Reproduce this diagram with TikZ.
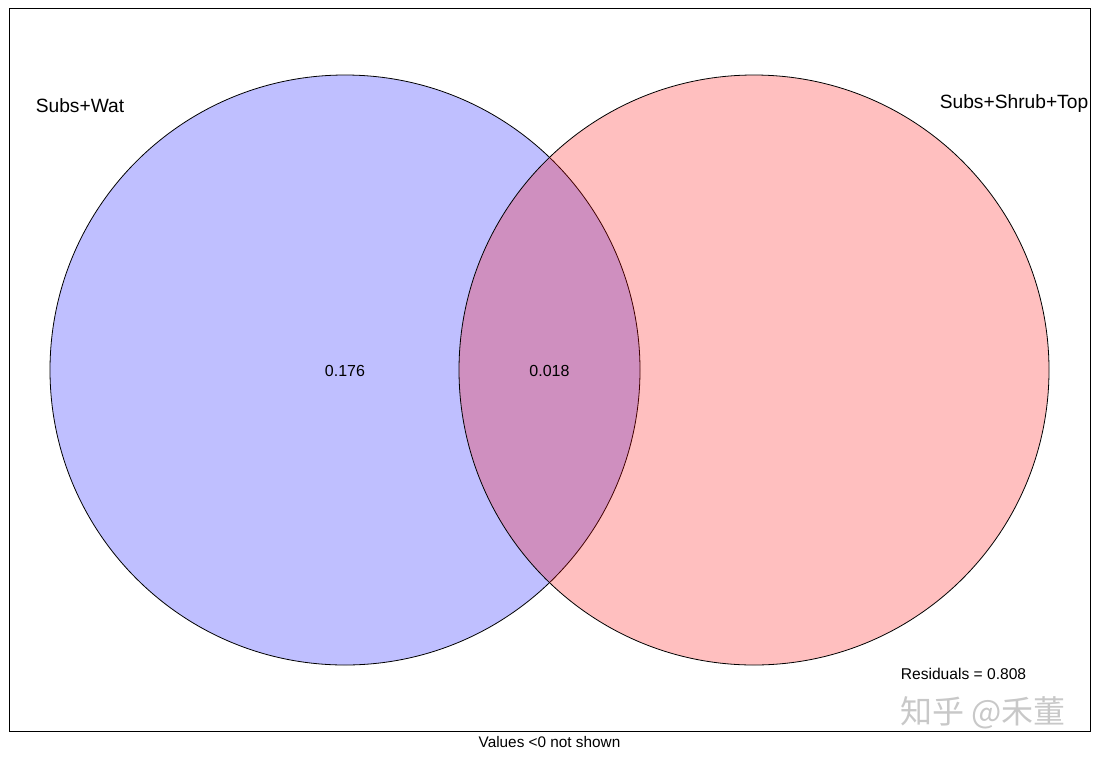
\documentclass[tikz,border=0pt]{standalone}
\usepackage{fontspec}
\setmainfont{Liberation Sans}
\newfontfamily\cjkfont{Noto Sans CJK SC}

\begin{document}
\begin{tikzpicture}[x=0.75pt,y=0.75pt,yscale=-1,xscale=1]
\useasboundingbox (0,0) rectangle (1098,761);

%Shape: Rectangle [id:frame] 
\draw [line width=0.75]  (9,8.5) rectangle (1090.5,731.5) ;

%Shape: Circle [id:subswat] 
\draw  [fill={rgb, 255:red, 0; green, 0; blue, 255 }  ,fill opacity=0.25 ][line width=0.6]  (345,370) circle [radius=295] ;
%Shape: Circle [id:subsshrubtop] 
\draw  [fill={rgb, 255:red, 255; green, 0; blue, 0 }  ,fill opacity=0.25 ][line width=0.6]  (754,370) circle [radius=295] ;

% Text Node
\draw (80,106) node (setA) {\fontsize{14.4}{17}\selectfont Subs+Wat};
% Text Node
\draw (1014,104) node (setB) {\fontsize{14.4}{17}\selectfont Subs+Shrub+Top};
% Text Node
\draw (345,371) node (onlyA) {\fontsize{12}{14}\selectfont 0.176};
% Text Node
\draw (549.5,371) node (bothAB) {\fontsize{12}{14}\selectfont 0.018};
% Text Node
\draw (963.5,674) node (resid) {\fontsize{11.7}{14}\selectfont Residuals = 0.808};
% Text Node
\draw (549.5,742) node (note) {\fontsize{11.5}{14}\selectfont Values <0 not shown};
% Text Node
\draw (983,713) node [color={rgb, 255:red, 200; green, 200; blue, 200 }] (mark) {\fontsize{24}{28}\selectfont\cjkfont 知乎 @禾董};

\end{tikzpicture}
\end{document}
